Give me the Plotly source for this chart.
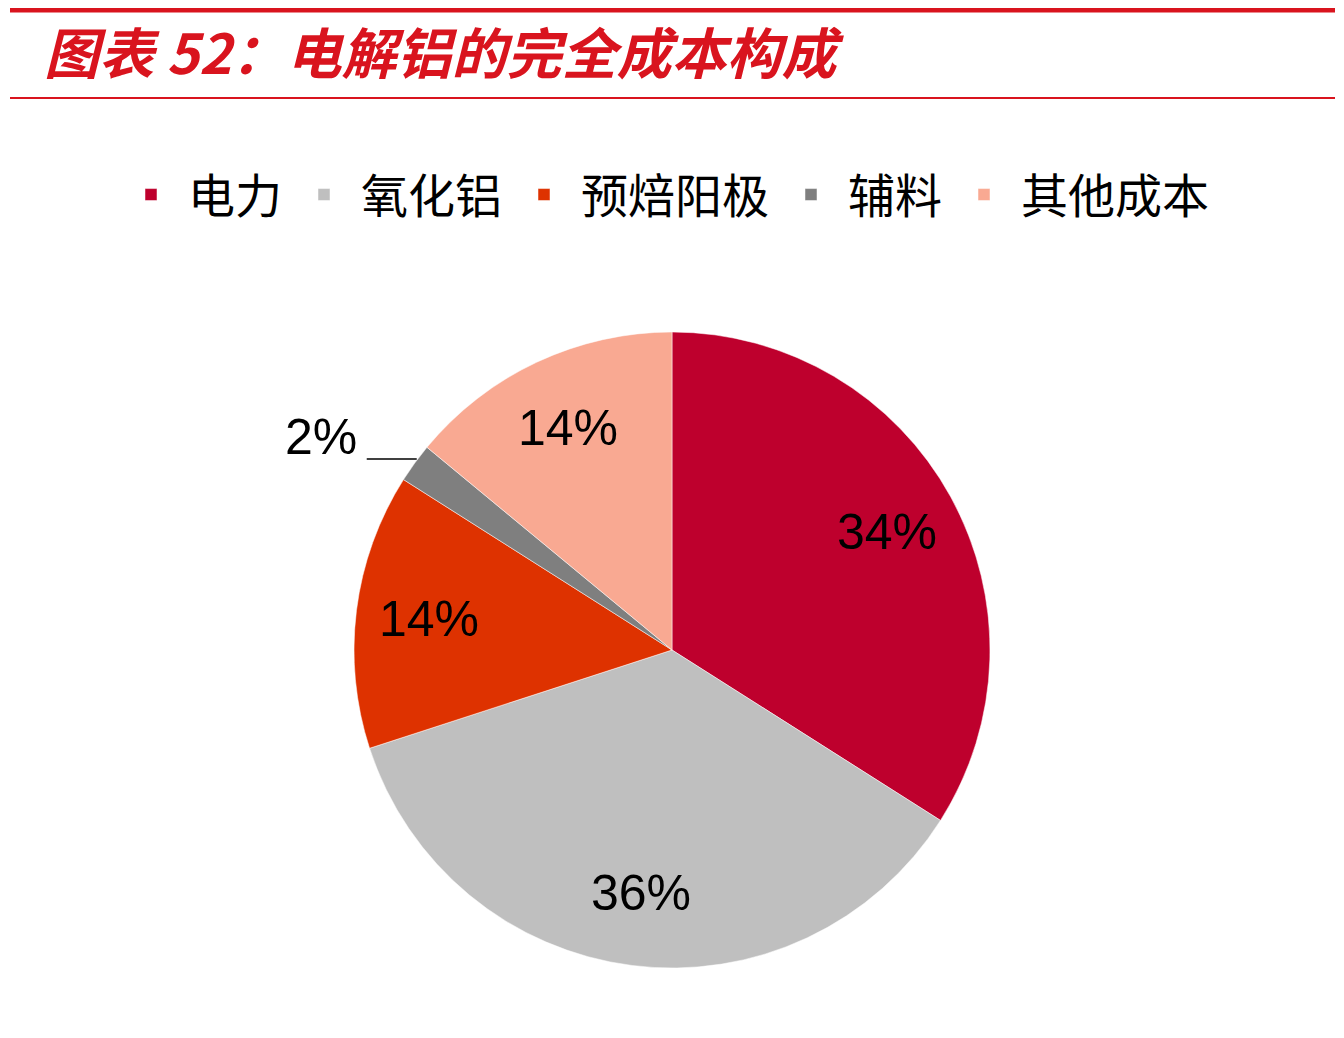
import math
import plotly.graph_objects as go

categories = ["电力", "氧化铝", "预焙阳极", "辅料", "其他成本"]
values = [34, 36, 14, 2, 14]
colors = ["#BE002D", "#BFBFBF", "#DE3200", "#7F7F7F", "#F9A992"]
outside_label = [False, False, False, True, False]

W, H = 1344, 1038
ML, MR, MT, MB = 100, 116, 324, 78
PW, PH = W - ML - MR, H - MT - MB
R_PX = min(PW, PH) / 2

fig = go.Figure(go.Pie(
    labels=categories,
    values=values,
    sort=False,
    direction="clockwise",
    rotation=0,
    marker=dict(colors=colors, line=dict(color="white", width=0.5)),
    textinfo="none",
    hoverinfo="label+percent",
))

# value labels placed along each slice's mid-angle (computed from the data)
total = sum(values)
cum = 0
annotations = []
shapes = []
lab_font = dict(family="Liberation Sans, Arial", size=50, color="black")
for v, outside in zip(values, outside_label):
    mid = (cum + v / 2) / total * 2 * math.pi
    cum += v
    sx, sy = math.sin(mid), math.cos(mid)
    if not outside:
        r = 0.77 * R_PX
        annotations.append(dict(
            x=0.5 + sx * r / PW, y=0.5 + sy * r / PH, xref="paper", yref="paper",
            text=f"{v}%", showarrow=False, font=lab_font,
            xanchor="center", yanchor="middle",
        ))
    else:
        ex, ey = 0.5 + sx * R_PX / PW, 0.5 + sy * R_PX / PH + 4 / PH
        shapes.append(dict(type="line", xref="paper", yref="paper",
                           x0=ex - 48 / PW, x1=ex + 2 / PW, y0=ey, y1=ey,
                           line=dict(color="black", width=1.5)))
        annotations.append(dict(
            x=ex - 56 / PW, y=ey, xref="paper", yref="paper",
            text=f"{v}%", showarrow=False, font=lab_font,
            xanchor="right", yanchor="bottom", yshift=-8,
        ))

red = "#D9141E"
shapes += [
    dict(type="line", xref="paper", yref="paper",
         x0=(2 - ML) / PW, x1=(1327 - ML) / PW,
         y0=1 + (MT - 1) / PH, y1=1 + (MT - 1) / PH,
         line=dict(color=red, width=7)),
    dict(type="line", xref="paper", yref="paper",
         x0=(2 - ML) / PW, x1=(1327 - ML) / PW,
         y0=1 + (MT - 90) / PH, y1=1 + (MT - 90) / PH,
         line=dict(color=red, width=2)),
]

fig.update_layout(
    width=W, height=H,
    paper_bgcolor="white", plot_bgcolor="white",
    margin=dict(l=ML, r=MR, t=MT, b=MB, autoexpand=False),
    title=dict(
        text="<b><i>图表 52：电解铝的完全成本构成</i></b>",
        font=dict(family="Noto Sans CJK SC", size=55, color=red),
        xref="container", yref="container",
        x=36 / W, xanchor="left", y=1 - 47 / H, yanchor="middle",
    ),
    legend=dict(
        orientation="h",
        x=(656 - ML) / PW, xanchor="center",
        y=1 + (MT - 187) / PH, yanchor="middle",
        font=dict(family="Noto Sans CJK SC", size=47, color="black"),
        itemwidth=64,
        traceorder="normal",
    ),
    annotations=annotations,
    shapes=shapes,
)

fig.write_html("out.html")
